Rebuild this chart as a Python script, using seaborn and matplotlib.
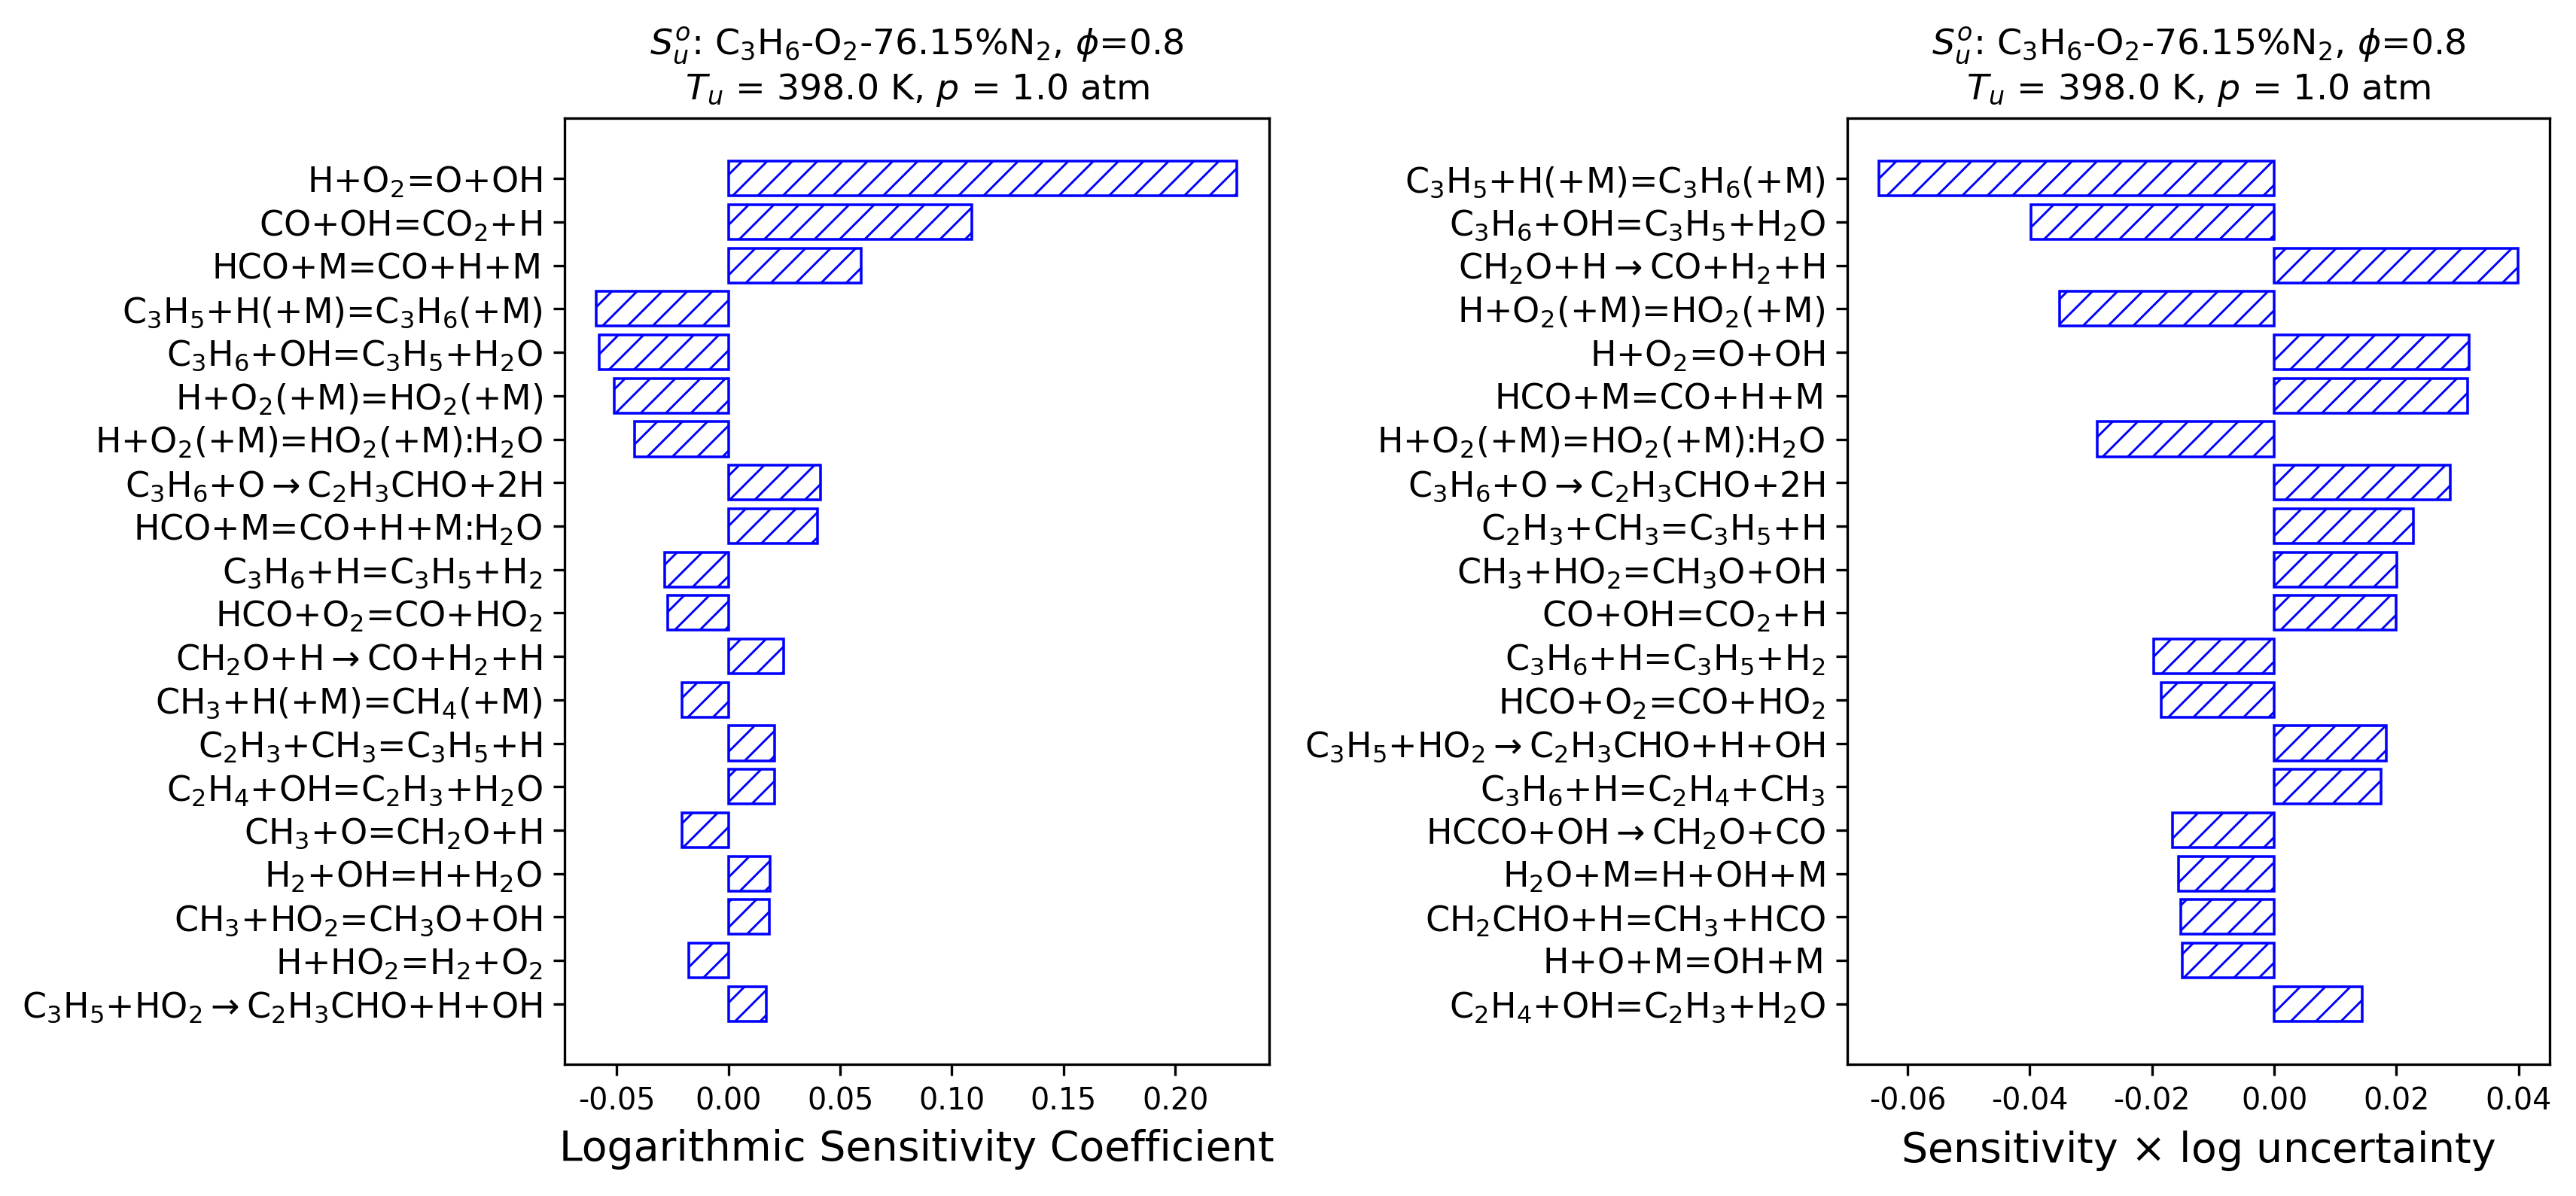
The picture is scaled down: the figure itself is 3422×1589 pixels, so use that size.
import matplotlib
matplotlib.use("Agg")
import matplotlib.pyplot as plt
import seaborn as sns
import numpy as np

# ---------------- data ----------------
left_labels = [
    r"H+O$_2$=O+OH",
    r"CO+OH=CO$_2$+H",
    r"HCO+M=CO+H+M",
    r"C$_3$H$_5$+H(+M)=C$_3$H$_6$(+M)",
    r"C$_3$H$_6$+OH=C$_3$H$_5$+H$_2$O",
    r"H+O$_2$(+M)=HO$_2$(+M)",
    r"H+O$_2$(+M)=HO$_2$(+M):H$_2$O",
    r"C$_3$H$_6$+O$\rightarrow$C$_2$H$_3$CHO+2H",
    r"HCO+M=CO+H+M:H$_2$O",
    r"C$_3$H$_6$+H=C$_3$H$_5$+H$_2$",
    r"HCO+O$_2$=CO+HO$_2$",
    r"CH$_2$O+H$\rightarrow$CO+H$_2$+H",
    r"CH$_3$+H(+M)=CH$_4$(+M)",
    r"C$_2$H$_3$+CH$_3$=C$_3$H$_5$+H",
    r"C$_2$H$_4$+OH=C$_2$H$_3$+H$_2$O",
    r"CH$_3$+O=CH$_2$O+H",
    r"H$_2$+OH=H+H$_2$O",
    r"CH$_3$+HO$_2$=CH$_3$O+OH",
    r"H+HO$_2$=H$_2$+O$_2$",
    r"C$_3$H$_5$+HO$_2$$\rightarrow$C$_2$H$_3$CHO+H+OH",
]
left_values = [0.2277, 0.1091, 0.0595, -0.0591, -0.0579, -0.0510, -0.0421,
               0.0413, 0.0397, -0.0287, -0.0271, 0.0248, -0.0209, 0.0207,
               0.0205, -0.0207, 0.0186, 0.0184, -0.0176, 0.0169]

right_labels = [
    r"C$_3$H$_5$+H(+M)=C$_3$H$_6$(+M)",
    r"C$_3$H$_6$+OH=C$_3$H$_5$+H$_2$O",
    r"CH$_2$O+H$\rightarrow$CO+H$_2$+H",
    r"H+O$_2$(+M)=HO$_2$(+M)",
    r"H+O$_2$=O+OH",
    r"HCO+M=CO+H+M",
    r"H+O$_2$(+M)=HO$_2$(+M):H$_2$O",
    r"C$_3$H$_6$+O$\rightarrow$C$_2$H$_3$CHO+2H",
    r"C$_2$H$_3$+CH$_3$=C$_3$H$_5$+H",
    r"CH$_3$+HO$_2$=CH$_3$O+OH",
    r"CO+OH=CO$_2$+H",
    r"C$_3$H$_6$+H=C$_3$H$_5$+H$_2$",
    r"HCO+O$_2$=CO+HO$_2$",
    r"C$_3$H$_5$+HO$_2$$\rightarrow$C$_2$H$_3$CHO+H+OH",
    r"C$_3$H$_6$+H=C$_2$H$_4$+CH$_3$",
    r"HCCO+OH$\rightarrow$CH$_2$O+CO",
    r"H$_2$O+M=H+OH+M",
    r"CH$_2$CHO+H=CH$_3$+HCO",
    r"H+O+M=OH+M",
    r"C$_2$H$_4$+OH=C$_2$H$_3$+H$_2$O",
]
right_values = [-0.0647, -0.0398, 0.0399, -0.0351, 0.0319, 0.0316, -0.0290,
                0.0288, 0.0228, 0.0201, 0.0200, -0.0197, -0.0185, 0.0183,
                0.0175, -0.0167, -0.0157, -0.0153, -0.0151, 0.0144]

title_text = (r"$S_u^o$: C$_3$H$_6$-O$_2$-76.15%N$_2$, $\phi$=0.8" "\n"
              r"$T_u$ = 398.0 K, $p$ = 1.0 atm")
left_xlabel = "Logarithmic Sensitivity Coefficient"
right_xlabel = r"Sensitivity $\times$ log uncertainty"

# ---------------- style ----------------
plt.rcParams["axes.unicode_minus"] = False
plt.rcParams["font.family"] = ["DejaVu Sans"]
plt.rcParams["mathtext.fontset"] = "dejavusans"
plt.rcParams["hatch.linewidth"] = 0.7

DPI = 300
fig = plt.figure(figsize=(3422 / DPI, 1589 / DPI), dpi=DPI)
ax1 = fig.add_axes([0.2191, 0.1101, 0.2736, 0.7911])
ax2 = fig.add_axes([0.7170, 0.1101, 0.2729, 0.7911])


def draw(ax, labels, values, xlabel):
    sns.barplot(x=values, y=labels, orient="h", ax=ax, color="white",
                saturation=1, edgecolor="blue", linewidth=0.85, hatch="///",
                width=0.8)
    n = len(labels)
    margin = 0.05 * (n - 1 + 0.8) + 0.4
    ax.set_ylim(n - 1 + margin, -margin)
    ax.set_xlabel(xlabel, fontsize=13.3)
    ax.set_ylabel("")
    ax.set_title(title_text, fontsize=11.4)
    ax.tick_params(axis="y", labelsize=11.0)
    ax.tick_params(axis="x", labelsize=9.5)
    for s in ax.spines.values():
        s.set_visible(True)
        s.set_color("black")


draw(ax1, left_labels, left_values, left_xlabel)
draw(ax2, right_labels, right_values, right_xlabel)

fig.savefig("out.png", dpi=DPI)
